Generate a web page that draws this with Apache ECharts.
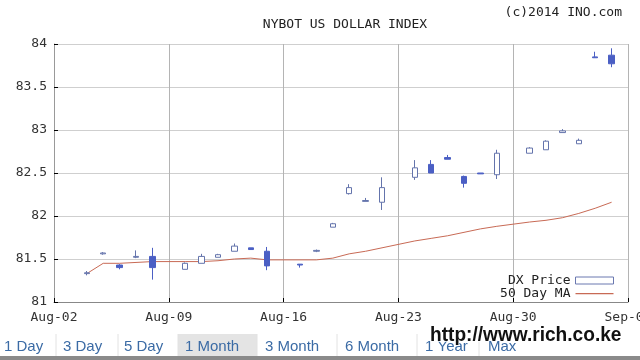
<!DOCTYPE html>
<html>
<head>
<meta charset="utf-8">
<script src="https://cdn.jsdelivr.net/npm/echarts@6/dist/echarts.min.js"></script>
<style>html,body{margin:0;padding:0;background:#fff;}#c{width:640px;height:360px;}</style>
</head>
<body>
<div id="c"></div>
<script>
// ---- data ----
var dates = ['Aug-04','Aug-05','Aug-06','Aug-07','Aug-08','Aug-10','Aug-11','Aug-12','Aug-13','Aug-14','Aug-15',
  'Aug-17','Aug-18','Aug-19','Aug-20','Aug-21','Aug-22','Aug-24','Aug-25','Aug-26','Aug-27','Aug-28','Aug-29',
  'Aug-31','Sep-01','Sep-02','Sep-03','Sep-04','Sep-05'];
var openVals  = [81.33,81.56,81.43,81.52,81.53,81.38,81.45,81.52,81.59,81.63,81.59,81.44,81.59,81.87,82.26,82.17,82.16,82.45,82.60,82.68,82.46,82.50,82.48,82.73,82.77,82.97,82.84,83.85,83.87];
var closeVals = [81.34,81.57,81.40,81.53,81.40,81.45,81.53,81.55,81.65,81.61,81.42,81.43,81.60,81.91,82.33,82.18,82.33,82.56,82.50,82.66,82.38,82.49,82.73,82.79,82.87,82.99,82.88,83.84,83.77];
var lowVals   = [81.31,81.55,81.38,81.51,81.26,81.38,81.45,81.52,81.59,81.61,81.37,81.40,81.58,81.87,82.25,82.17,82.07,82.42,82.50,82.66,82.33,82.49,82.43,82.73,82.77,82.97,82.84,83.84,83.73];
var highVals  = [81.36,81.58,81.44,81.60,81.63,81.46,81.56,81.56,81.68,81.63,81.64,81.44,81.61,81.92,82.37,82.21,82.45,82.65,82.65,82.71,82.47,82.50,82.77,82.80,82.88,83.01,82.90,83.91,83.95];
var maVals    = [81.33,81.45,81.45,81.46,81.47,81.47,81.47,81.48,81.50,81.51,81.49,81.49,81.49,81.51,81.56,81.59,81.63,81.71,81.74,81.77,81.81,81.85,81.88,81.93,81.95,81.98,82.03,82.09,82.16];
var xTickLabels = ['Aug-02','Aug-09','Aug-16','Aug-23','Aug-30','Sep-06'];
var yTicks = [81, 81.5, 82, 82.5, 83, 83.5, 84];
var tabs = ['1 Day','3 Day','5 Day','1 Month','3 Month','6 Month','1 Year','Max'];

// day offset from Aug-02 (2014)
var monthIdx = {Aug: 7, Sep: 8};
function dayOffset(s) {
  var p = s.split('-');
  return (Date.UTC(2014, monthIdx[p[0]], +p[1]) - Date.UTC(2014, 7, 2)) / 86400000;
}
var candleData = dates.map(function (d, i) {
  return [dayOffset(d), openVals[i], closeVals[i], lowVals[i], highVals[i]];
});
var maData = dates.map(function (d, i) { return [dayOffset(d), maVals[i]]; });

var mono = 'DejaVu Sans Mono';
var chart = echarts.init(document.getElementById('c'), null, {renderer: 'canvas'});

// tab graphics
var tabX = [4, 63, 124, 185, 265, 345, 425, 488];
var sepX = [56, 118, 178, 257, 337, 417, 479];
var graphics = [
  {type: 'rect', shape: {x: 178, y: 334, width: 79, height: 23}, style: {fill: '#e4e4e4'}, z: 0},
  {type: 'rect', shape: {x: 0, y: 356, width: 640, height: 4}, style: {fill: '#8a8a8a'}, z: 0}
];
sepX.forEach(function (x) {
  graphics.push({type: 'line', shape: {x1: x, y1: 334, x2: x, y2: 356}, style: {stroke: '#e2e2e2', lineWidth: 1}});
});
tabs.forEach(function (t, i) {
  graphics.push({type: 'text', x: tabX[i], y: 347, style: {text: t, fill: '#3b6ba5', font: '15px "Liberation Sans", Arial, sans-serif', textVerticalAlign: 'middle'}, z: 5});
});
graphics.push({type: 'text', x: 430, y: 335, scaleX: 0.91, style: {text: 'http://www.rich.co.ke', fill: '#111', stroke: '#fff', lineWidth: 1.5, font: 'bold 21px "Liberation Sans", Arial, sans-serif', textVerticalAlign: 'middle'}, z: 10});
graphics.push({type: 'text', right: 18, top: 6, style: {text: '(c)2014 INO.com', fill: '#222', font: '13px "' + mono + '"'}});

chart.setOption({
  animation: false,
  backgroundColor: '#ffffff',
  title: {
    text: 'NYBOT US DOLLAR INDEX', left: 340, top: 13, textAlign: 'center',
    textStyle: {fontFamily: mono, fontSize: 13, fontWeight: 'normal', color: '#222'}
  },
  grid: {left: 54, right: 12, top: 44, bottom: 58, outerBoundsMode: 'none', containLabel: false},
  legend: {
    orient: 'vertical', right: 21, top: 269, align: 'right',
    itemWidth: 38, itemHeight: 7, itemGap: 0,
    textStyle: {fontFamily: mono, fontSize: 13, color: '#222'},
    data: [
      {name: 'DX Price', icon: 'rect', itemStyle: {color: '#fff', borderColor: '#6a78b0', borderWidth: 1}},
      {name: '50 Day MA', icon: 'path://M0,0L0,0M0,3L38,3L38,4.3L0,4.3ZM0,7L0,7', itemStyle: {color: '#c86a55'}}
    ]
  },
  xAxis: {
    type: 'value', min: 0, max: 35, interval: 7,
    axisLine: {show: true, lineStyle: {color: '#888'}},
    axisTick: {show: true, inside: true, length: 4, lineStyle: {color: '#000'}},
    axisLabel: {
      fontFamily: mono, fontSize: 13, color: '#333', margin: 9,
      formatter: function (v) { return xTickLabels[Math.round(v / 7)] || ''; }
    },
    splitLine: {show: true, lineStyle: {color: '#b4b4b4', width: 1}}
  },
  yAxis: {
    type: 'value', min: yTicks[0], max: yTicks[yTicks.length - 1], interval: 0.5,
    axisLine: {show: true, lineStyle: {color: '#999'}},
    axisTick: {show: true, inside: true, length: 4, lineStyle: {color: '#000'}},
    axisLabel: {fontFamily: mono, fontSize: 13, color: '#333', margin: 7},
    splitLine: {show: true, lineStyle: {color: '#cfcfcf', width: 1}}
  },
  graphic: graphics,
  series: [
    {
      name: 'DX Price', type: 'candlestick', data: candleData, barWidth: 6,
      itemStyle: {color: '#ffffff', color0: '#4b5fc4', borderColor: '#6474ac', borderColor0: '#4b5fc4', borderWidth: 1}
    },
    {
      name: '50 Day MA', type: 'line', data: maData, showSymbol: false, symbol: 'none',
      lineStyle: {color: '#c86a55', width: 1}, itemStyle: {color: '#c86a55'}, z: 1
    }
  ]
});
</script>
</body>
</html>
